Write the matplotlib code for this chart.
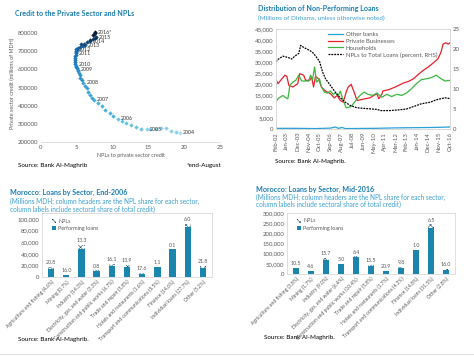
import matplotlib
matplotlib.use("Agg")
import matplotlib.pyplot as plt
import numpy as np
from matplotlib.colors import LinearSegmentedColormap
from matplotlib.ticker import FuncFormatter

plt.rcParams['font.family'] = ['Lato', 'DejaVu Sans']
plt.rcParams['hatch.linewidth'] = 0.4

TEAL = '#1b7db3'
SUB = '#3d9fd6'
GRAY = '#595959'
BAR = '#1a86ad'

# ---------------- Panel 1 data: NPL ratio vs private credit ----------------
years = [2004, 2005, 2006, 2007, 2008, 2009, 2010, 2011, 2012, 2013, 2014, 2015, 2016]
npl_by_year = [
    [19.4],
    [18.8, 18.2, 17.4, 16.8, 16.0, 15.2, 14.8],
    [14.0, 13.2, 12.5, 11.9, 11.3, 10.7],
    [10.1, 9.6, 9.0, 8.5, 8.0, 7.4],
    [7.1, 6.8, 6.6, 6.4, 6.2, 5.9],
    [5.7, 5.5, 5.4, 5.3, 5.2, 5.1],
    [5.0, 4.9, 4.85, 4.8],
    [4.75, 4.7, 4.75, 4.8, 4.85, 4.85],
    [4.9, 4.95, 5.0, 4.9],
    [5.2, 5.5, 5.8, 6.1],
    [5.6, 6.0, 6.4, 6.8],
    [6.9, 7.2, 7.5, 7.7],
    [7.2, 7.4, 7.6, 7.5],
]
credit_by_year = [
    [250000],
    [256000, 263000, 276000, 278000, 272000, 270000, 270000],
    [273000, 282000, 292000, 302000, 315000, 328000],
    [343000, 358000, 378000, 398000, 415000, 433000],
    [445000, 460000, 478000, 495000, 510000, 527000],
    [540000, 555000, 568000, 580000, 590000, 597000],
    [605000, 612000, 620000, 628000],
    [640000, 652000, 662000, 672000, 680000, 688000],
    [695000, 700000, 705000, 710000],
    [718000, 725000, 728000, 732000],
    [738000, 742000, 750000, 756000],
    [762000, 768000, 772000, 778000],
    [790000, 797000, 802000, 805000],
]
year_labels = ['2004', '2005', '2006', '2007', '2008', '2009', '2010', '2011',
               '2012', '2013', '2014', '2015', '2016*']

# ---------------- Panel 2 data: NPL distribution (month index from Feb-02) ----------------
month_ticks = ['Feb-02', 'Jan-03', 'Dec-03', 'Nov-04', 'Oct-05', 'Sep-06', 'Aug-07', 'Jul-08',
               'Jun-09', 'May-10', 'Apr-11', 'Mar-12', 'Feb-13', 'Jan-14', 'Dec-14', 'Nov-15', 'Oct-16']
ratio_m = [0, 2, 7, 12, 16, 19, 23, 25, 28, 32, 35, 38, 42, 44, 47, 50, 55, 60, 65, 70, 75, 82,
           92, 102, 106, 115, 125, 132, 139, 147, 156, 162, 171, 176]
ratio_v = [16.8, 17.4, 18.2, 17.9, 17.5, 18.2, 18.9, 20.9, 20.4, 19.9, 19.5, 18.9, 17.6, 16.9,
           14.3, 12.6, 10.9, 9.2, 7.8, 6.7, 5.9, 5.3, 5.1, 4.9, 4.6, 4.6, 4.8, 5.0, 5.6, 6.3,
           6.7, 7.3, 7.8, 7.6]
biz_m = [0, 2, 6, 9, 11, 13, 17, 22, 24, 28, 30, 34, 36, 38, 40, 43, 46, 49, 52, 55, 59, 62,
         65, 68, 71, 73, 76, 79, 82, 85, 90, 95, 99, 102, 104, 107, 108, 114, 119, 124, 129,
         134, 139, 144, 149, 154, 159, 164, 167, 169, 172, 174, 176]
biz_v = [22200, 20400, 22600, 24200, 23700, 19600, 18900, 20400, 24900, 24200, 21900, 21900,
         23400, 18900, 23700, 22600, 18900, 17400, 16600, 15900, 14000, 15100, 12800, 12100,
         16600, 18900, 20100, 16600, 12800, 13100, 13600, 14000, 15100, 15900, 13600, 15600,
         17100, 17700, 18600, 19600, 20700, 21400, 22600, 24600, 26400, 27900, 29700, 31700,
         34700, 38200, 38800, 38200, 38800]
hh_m = [0, 3, 7, 10, 12, 14, 17, 20, 23, 26, 29, 33, 35, 37, 39, 41, 44, 46, 49, 52, 55, 58,
        60, 63, 65, 68, 71, 76, 82, 85, 89, 93, 98, 102, 107, 112, 117, 122, 127, 132, 137,
        142, 147, 152, 157, 162, 167, 171, 176]
hh_v = [12500, 14000, 15100, 14000, 13600, 19600, 21100, 21900, 24200, 21600, 21600, 21600,
        24200, 22200, 27900, 21100, 22600, 18900, 16600, 16200, 17100, 15600, 16200, 15100,
        17100, 12800, 9500, 10100, 13600, 15100, 16600, 15600, 15100, 16200, 14300, 15600,
        14600, 15600, 15100, 16200, 18100, 20400, 22200, 22600, 23100, 24200, 22600, 21600,
        21900]
ob_m = [0, 20, 40, 55, 60, 63, 67, 70, 100, 120, 140, 160, 176]
ob_v = [300, 300, 200, 400, 900, 300, 700, 200, 300, 500, 600, 700, 900]

# ---------------- Panels 3/4 data: loans by sector ----------------
sectors_2006 = ['Agriculture and fishing (4.6%)', 'Mining (0.7%)', 'Industry (14.3%)',
                'Electricity, gas, and water (3.3%)', 'Construction and public works (6.7%)',
                'Trade and repair (5.8%)', 'Hotels and restaurants (1.6%)',
                'Transport and communications (5.5%)', 'Finance (14.6%)',
                'Individual loans (27.7%)', 'Other (5.2%)']
total_2006 = [18000, 3900, 55000, 11200, 22500, 20800, 6700, 18000, 47800, 91600, 19700]
nplshare_2006 = [20.8, 16.0, 13.3, 0.8, 16.1, 13.9, 17.6, 1.1, 0.1, 6.0, 21.8]

sectors_2016 = ['Agriculture and fishing (3.8%)', 'Mining (1.7%)', 'Industry (9.0%)',
                'Electricity, gas, and water (6.4%)', 'Construction and public works (10.4%)',
                'Trade and repair (5.8%)', 'Hotels and restaurants (1.7%)',
                'Transport and communications (4.3%)', 'Finance (14.8%)',
                'Individual loans (31.5%)', 'Other (2.8%)']
total_2016 = [30300, 15200, 79200, 50600, 87600, 45500, 16900, 33700, 118000, 244000, 25300]
nplshare_2016 = [10.5, 4.6, 15.7, 5.0, 6.4, 15.5, 20.9, 9.8, 1.0, 6.5, 16.0]

W, H = 474, 356
fig = plt.figure(figsize=(W / 100, H / 100), dpi=100)


def rect(x0, y0, x1, y1):
    return [x0 / W, 1 - y1 / H, (x1 - x0) / W, (y1 - y0) / H]


def ftext(x, y, s, **kw):
    fig.text(x / W, 1 - y / H, s, **kw)


comma = FuncFormatter(lambda v, p: f'{int(v):,}')

# ---------------- Panel 1 ----------------
ax1 = fig.add_axes(rect(41, 24, 220, 142))
cmap = LinearSegmentedColormap.from_list('b', ['#a9def4', '#45b0e0', '#1f84c4', '#15609e', '#0b203c'])
for i, (xs, ys) in enumerate(zip(npl_by_year, credit_by_year)):
    c = cmap(i / (len(years) - 1))
    ax1.scatter(xs, ys, marker='D', s=5, color=c, linewidths=0, zorder=3)
    ax1.annotate(year_labels[i], (xs[-1], ys[-1]), xytext=(2.2, 0), textcoords='offset points',
                 fontsize=3.8, color='#333333', va='center', ha='left')
ax1.set_xlim(0, 25)
ax1.set_ylim(200000, 850000)
ax1.set_xticks([0, 5, 10, 15, 20, 25])
ax1.set_yticks(np.arange(200000, 800001, 100000))
ax1.yaxis.set_major_formatter(FuncFormatter(lambda v, p: f'{int(v)}'))
for s in ['top', 'right', 'left']:
    ax1.spines[s].set_visible(False)
ax1.spines['bottom'].set_color('#d9d9d9')
ax1.spines['bottom'].set_linewidth(0.6)
ax1.tick_params(length=0, labelsize=4.3, labelcolor=GRAY, pad=2)
ax1.set_xlabel('NPLs to private sector credit', fontsize=3.9, color=GRAY, labelpad=2)
ax1.set_ylabel('Private sector credit (millions of MDH)', fontsize=3.9, color=GRAY, labelpad=2)
ftext(15, 13, 'Credit to the Private Sector and NPLs', fontsize=5.1, fontweight='bold',
      color=TEAL, va='center')
ftext(18, 166, 'Source: Bank Al-Maghrib', fontsize=4.5, color='black', va='center')
ftext(221, 166, '*end-August', fontsize=4.5, color='black', va='center', ha='right')

# ---------------- Panel 2 ----------------
ax2 = fig.add_axes(rect(276, 29, 450, 129))
ax2.plot(ob_m, ob_v, color='#2aa0d8', lw=0.9, label='Other banks')
ax2.plot(biz_m, biz_v, color='#e8202a', lw=0.9, label='Private Businesses')
ax2.plot(hh_m, hh_v, color='#3cb540', lw=0.9, label='Households')
ax2.set_xlim(0, 176)
ax2.set_ylim(0, 45000)
ax2.set_yticks(np.arange(0, 45001, 5000))
ax2.yaxis.set_major_formatter(comma)
ax2.set_xticks(np.arange(0, 177, 11))
ax2.set_xticklabels(month_ticks, rotation=90)
ax2.tick_params(length=0, labelsize=4.3, labelcolor=GRAY, pad=2)
ax2b = ax2.twinx()
ax2b.plot(ratio_m, ratio_v, color='black', lw=0.9, ls=(0, (1.5, 0.8)),
          label='NPLs to Total Loans (percent, RHS)')
ax2b.set_ylim(0, 25)
ax2b.set_yticks(np.arange(0, 26, 5))
ax2b.tick_params(length=0, labelsize=4.3, labelcolor=GRAY, pad=2)
for a in (ax2, ax2b):
    for s in a.spines.values():
        s.set_color('#d9d9d9')
        s.set_linewidth(0.6)
h1, l1 = ax2.get_legend_handles_labels()
h2, l2 = ax2b.get_legend_handles_labels()
ax2.legend(h1 + h2, l1 + l2, loc='upper left', bbox_to_anchor=(0.28, 1.0), frameon=False,
           fontsize=4.3, handlelength=2.6, labelspacing=0.25, borderaxespad=0.1,
           handletextpad=0.4, labelcolor=GRAY)
ftext(258, 9, 'Distribution of Non-Performing Loans', fontsize=5.1, fontweight='bold',
      color=TEAL, va='center')
ftext(258, 18, '(Millions of Dirhams, unless otherwise noted)', fontsize=4.6, color=SUB,
      va='center')
ftext(275, 161, 'Source: Bank Al-Maghrib.', fontsize=4.5, color='black', va='center')


# ---------------- Panels 3 & 4 ----------------
def sector_panel(r, sectors, totals, shares, ymax, yticks, title, tx, ty, dy1, dy2, srcx, srcy):
    ax = fig.add_axes(r)
    x = np.arange(len(sectors))
    tot = np.array(totals, dtype=float)
    npl = tot * np.array(shares) / 100.0
    perf = tot - npl
    ax.bar(x, perf, width=0.42, color=BAR, label='Performing loans', zorder=2)
    ax.bar(x, npl, width=0.42, bottom=perf, color='white', edgecolor='#1c4f66', hatch='xxxxxx',
           linewidth=0.0, label='NPLs', zorder=2)
    for xi, t, s in zip(x, tot, shares):
        ax.annotate(f'{s:.1f}', (xi, t), xytext=(0, 1.2), textcoords='offset points',
                    ha='center', va='bottom', fontsize=3.8, color=GRAY)
    ax.set_xlim(-0.6, len(sectors) - 0.4)
    ax.set_ylim(0, ymax)
    ax.set_yticks(yticks)
    ax.yaxis.set_major_formatter(comma)
    ax.set_xticks(x)
    ax.set_xticklabels(sectors, rotation=45, ha='right', rotation_mode='anchor')
    ax.tick_params(axis='x', length=0, labelsize=3.6, labelcolor=GRAY, pad=1.5)
    ax.tick_params(axis='y', length=0, labelsize=4.3, labelcolor=GRAY, pad=2)
    for s in ax.spines.values():
        s.set_color('#d9d9d9')
        s.set_linewidth(0.6)
    h, l = ax.get_legend_handles_labels()
    ax.legend(h[::-1], l[::-1], loc='upper left', bbox_to_anchor=(0.03, 0.99), frameon=False,
              fontsize=3.9, handlelength=0.8, handleheight=0.8, labelspacing=0.5,
              handletextpad=0.4, labelcolor=GRAY)
    ftext(tx, ty, title, fontsize=5.1, fontweight='bold', color=TEAL, va='center')
    ftext(tx, ty + dy1, '(Millions MDH; column headers are the NPL share for each sector,',
          fontsize=4.7, color=SUB, va='center')
    ftext(tx, ty + dy2, 'column labels include sectoral share of total credit)',
          fontsize=4.7, color=SUB, va='center')
    ftext(srcx, srcy, 'Source: Bank Al-Maghrib.', fontsize=4.5, color='black', va='center')
    return ax


sector_panel(rect(42, 213, 212, 277), sectors_2006, total_2006, nplshare_2006, 110000,
             np.arange(0, 100001, 20000), 'Morocco: Loans by Sector, End-2006', 10, 192, 9, 17,
             18, 340)
sector_panel(rect(287, 213, 455, 274), sectors_2016, total_2016, nplshare_2016, 300000,
             np.arange(0, 300001, 50000), 'Morocco: Loans by Sector, Mid-2016', 256, 189, 8, 15,
             264, 338)

fig.add_artist(plt.Line2D([0, 1], [1 - 354 / H, 1 - 354 / H], color='#e0e0e0', lw=0.8))

fig.savefig('out.png', dpi=100)
